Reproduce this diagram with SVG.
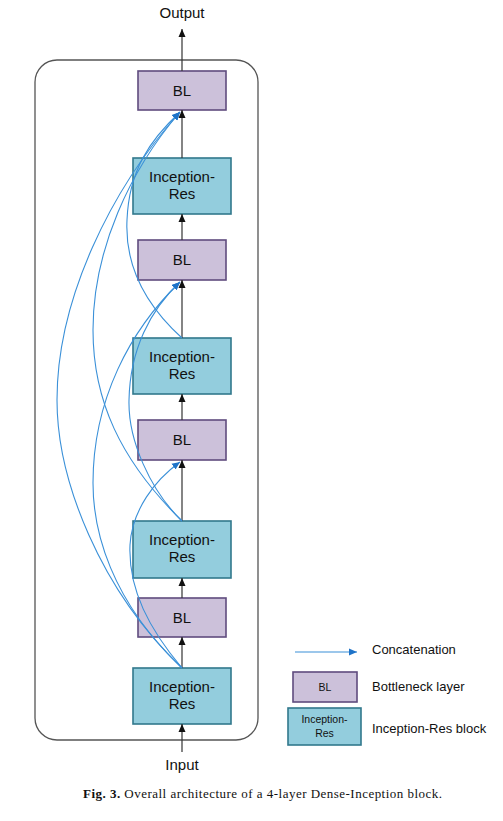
<svg xmlns="http://www.w3.org/2000/svg" width="503" height="821" viewBox="0 0 503 821">
<defs>
<marker id="ab" markerUnits="userSpaceOnUse" markerWidth="10" markerHeight="8" refX="8" refY="4" orient="auto"><path d="M0,0.5 L8,4 L0,7.5 z" fill="#111"/></marker>
<marker id="au" markerUnits="userSpaceOnUse" markerWidth="10" markerHeight="8" refX="8" refY="4" orient="auto"><path d="M0,0.5 L8,4 L0,7.5 z" fill="#1E73C8"/></marker>
<style>
.bl{fill:#CCC1DA;stroke:#5F4B7E;stroke-width:1.6}
.ir{fill:#93CDDD;stroke:#31788C;stroke-width:1.6}
.t{font-family:"Liberation Sans",Arial,sans-serif;font-size:15px;fill:#111;text-anchor:middle}
.ts{font-family:"Liberation Sans",Arial,sans-serif;font-size:10.5px;fill:#111;text-anchor:middle}
.lg{font-family:"Liberation Sans",Arial,sans-serif;font-size:13px;fill:#111}
.k{stroke:#333;stroke-width:1.2;fill:none;marker-end:url(#ab)}
.c{stroke:#3A90D8;stroke-width:1.1;fill:none;marker-end:url(#au)}
</style>
</defs>
<rect x="35" y="60" width="223" height="680" rx="22" ry="22" fill="none" stroke="#555" stroke-width="1.3"/>
<text class="t" x="182" y="18" font-size="16">Output</text>
<text class="t" x="182" y="770" font-size="15">Input</text>

<g id="bl1"><rect class="bl" x="138" y="71" width="88" height="39"/><text class="t" x="182" y="96">BL</text></g>
<g id="ir1"><rect class="ir" x="133" y="158" width="98" height="56"/><text class="t" x="182" y="182">Inception-</text><text class="t" x="182" y="199">Res</text></g>
<g id="bl2"><rect class="bl" x="138" y="240" width="88" height="40"/><text class="t" x="182" y="265">BL</text></g>
<g id="ir2"><rect class="ir" x="133" y="338" width="98" height="56"/><text class="t" x="182" y="362">Inception-</text><text class="t" x="182" y="379">Res</text></g>
<g id="bl3"><rect class="bl" x="138" y="420" width="88" height="40"/><text class="t" x="182" y="445">BL</text></g>
<g id="ir3"><rect class="ir" x="133" y="521" width="98" height="57"/><text class="t" x="182" y="545">Inception-</text><text class="t" x="182" y="562">Res</text></g>
<g id="bl4"><rect class="bl" x="138" y="598" width="88" height="39"/><text class="t" x="182" y="623">BL</text></g>
<g id="ir4"><rect class="ir" x="133" y="668" width="98" height="56"/><text class="t" x="182" y="692">Inception-</text><text class="t" x="182" y="709">Res</text></g>

<g id="connectors">
<line class="k" x1="182" y1="71" x2="182" y2="29"/>
<line class="k" x1="182" y1="158" x2="182" y2="110"/>
<line class="k" x1="182" y1="240" x2="182" y2="214"/>
<line class="k" x1="182" y1="338" x2="182" y2="280"/>
<line class="k" x1="182" y1="420" x2="182" y2="394"/>
<line class="k" x1="182" y1="521" x2="182" y2="460"/>
<line class="k" x1="182" y1="598" x2="182" y2="578"/>
<line class="k" x1="182" y1="668" x2="182" y2="637"/>
<line class="k" x1="182" y1="752" x2="182" y2="724"/>

<path class="c" d="M182,668 C100,590 57,480 57,400 C57,300 110,190 180,112"/>
<path class="c" d="M182,668 C110,600 93,530 93,483 C93,400 130,330 180,282"/>
<path class="c" d="M182,668 C150,630 128,590 130,545 C132,510 155,480 180,462"/>
<path class="c" d="M182,521 C120,460 93,400 93,330 C93,250 130,170 180,112"/>
<path class="c" d="M182,521 C150,490 128,440 129,400 C130,350 150,310 180,282"/>
<path class="c" d="M182,338 C140,300 125,260 127,220 C129,170 150,140 180,112"/>
</g>

<g id="legend">
<line class="c" x1="295" y1="652" x2="357" y2="652"/>
<text class="lg" x="372" y="654">Concatenation</text>
<rect class="bl" x="293" y="672" width="64" height="30"/>
<text class="ts" x="325" y="691">BL</text>
<text class="lg" x="372" y="691">Bottleneck layer</text>
<rect class="ir" x="288" y="708" width="73" height="37"/>
<text class="ts" x="324.5" y="723">Inception-</text>
<text class="ts" x="324.5" y="737">Res</text>
<text class="lg" x="372" y="733">Inception-Res block</text>
</g>

<text x="83" y="798" font-family="'Liberation Serif','Times New Roman',serif" font-size="13" fill="#111" textLength="359" lengthAdjust="spacing"><tspan font-weight="bold">Fig. 3.</tspan>  Overall architecture of a 4-layer Dense-Inception block.</text>
</svg>
